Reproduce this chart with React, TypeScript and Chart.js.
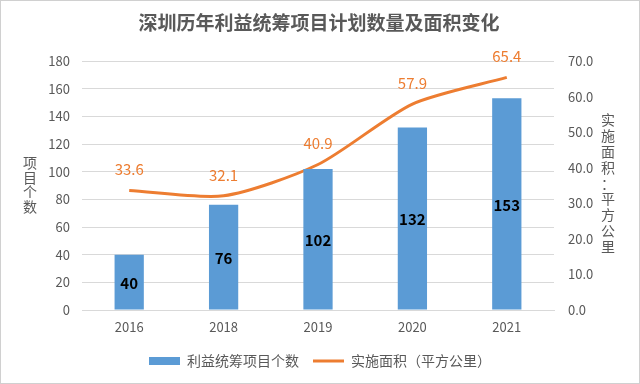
import React, { useEffect, useRef } from "react";
import { Chart, registerables } from "chart.js";

Chart.register(...registerables);

const title = "深圳历年利益统筹项目计划数量及面积变化";
const years = ["2016", "2018", "2019", "2020", "2021"];
const projectCounts = [40, 76, 102, 132, 153];
const areas = [33.6, 32.1, 40.9, 57.9, 65.4];
const barLabel = "利益统筹项目个数";
const lineLabel = "实施面积（平方公里）";
const leftTitle = "项目个数";
const rightTitle = "实施面积：平方公里";

const FONT = '"Noto Sans CJK SC", "Noto Sans", sans-serif';
const GRAY = "#595959";
const BLUE = "#5B9BD5";
const ORANGE = "#ED7D31";

const decorPlugin = {
  id: "decor",
  beforeDraw(chart: any) {
    const { ctx, width, height } = chart;
    ctx.save();
    ctx.fillStyle = "#ffffff";
    ctx.fillRect(0, 0, width, height);
    ctx.strokeStyle = "#d0d0d0";
    ctx.lineWidth = 1;
    ctx.strokeRect(0.5, 0.5, width - 1, height - 1);
    ctx.restore();
  },
  afterDraw(chart: any) {
    const { ctx, width } = chart;
    ctx.save();
    ctx.fillStyle = GRAY;
    ctx.textAlign = "center";
    ctx.textBaseline = "middle";
    ctx.font = `bold 19px ${FONT}`;
    ctx.fillText(title, width / 2 - 1, 23);
    ctx.font = `14px ${FONT}`;
    const lc = Array.from(leftTitle);
    lc.forEach((ch, i) => ctx.fillText(ch, 30, 163 + i * 14.5));
    const rc = Array.from(rightTitle);
    rc.forEach((ch, i) => ctx.fillText(ch, 608, 120 + i * 15.8));
    ctx.restore();
  },
};

const labelPlugin = {
  id: "valueLabels",
  afterDatasetsDraw(chart: any) {
    const { ctx } = chart;
    ctx.save();
    ctx.textAlign = "center";
    ctx.textBaseline = "middle";
    const barMeta = chart.getDatasetMeta(0);
    ctx.font = `bold 15px ${FONT}`;
    ctx.fillStyle = "#000000";
    barMeta.data.forEach((el: any, i: number) => {
      const { x, y, base } = el.getProps(["x", "y", "base"], true);
      ctx.fillText(String(projectCounts[i]), x, (y + base) / 2 + 1);
    });
    const lineMeta = chart.getDatasetMeta(1);
    ctx.font = `15px ${FONT}`;
    ctx.fillStyle = ORANGE;
    lineMeta.data.forEach((el: any, i: number) => {
      const { x, y } = el.getProps(["x", "y"], true);
      ctx.fillText(areas[i].toFixed(1), x, y - 21);
    });
    ctx.restore();
  },
};

export default function App() {
  const ref = useRef<HTMLCanvasElement | null>(null);
  useEffect(() => {
    if (!ref.current) return;
    const chart = new Chart(ref.current, {
      type: "bar",
      data: {
        labels: years,
        datasets: [
          {
            type: "bar",
            label: barLabel,
            data: projectCounts,
            backgroundColor: BLUE,
            borderWidth: 0,
            barPercentage: 0.31,
            categoryPercentage: 1,
            yAxisID: "y",
            pointStyle: "rect",
          } as any,
          {
            type: "line",
            label: lineLabel,
            data: areas,
            borderColor: ORANGE,
            backgroundColor: ORANGE,
            borderWidth: 3,
            pointRadius: 0,
            tension: 0.25,
            yAxisID: "y1",
            pointStyle: "line",
          } as any,
        ],
      },
      options: {
        animation: false,
        responsive: false,
        maintainAspectRatio: false,
        layout: { padding: { top: 61, bottom: 6, left: 0, right: 0 } },
        plugins: {
          title: { display: false },
          tooltip: { enabled: false },
          legend: {
            position: "bottom",
            labels: {
              usePointStyle: true,
              pointStyleWidth: 31,
              boxHeight: 8,
              color: GRAY,
              font: { family: FONT, size: 14 },
              padding: 14,
            },
          },
        },
        scales: {
          x: {
            grid: { display: false, drawTicks: false },
            border: { display: true, color: "#d9d9d9", width: 1 },
            ticks: { color: GRAY, font: { family: FONT, size: 13 }, padding: 9 },
            afterFit: (s: any) => {
              s.height = 30;
            },
          },
          y: {
            position: "left",
            min: 0,
            max: 180,
            ticks: { stepSize: 20, color: GRAY, font: { family: FONT, size: 13 }, padding: 12 },
            grid: { color: "#d9d9d9", drawTicks: false },
            border: { display: false },
            afterFit: (s: any) => {
              s.width = 82;
            },
          },
          y1: {
            position: "right",
            min: 0,
            max: 70,
            ticks: {
              stepSize: 10,
              color: GRAY,
              font: { family: FONT, size: 13 },
              padding: 14,
              callback: (v: any) => Number(v).toFixed(1),
            },
            grid: { display: false, drawTicks: false },
            border: { display: false },
            afterFit: (s: any) => {
              s.width = 86;
            },
          },
        },
      } as any,
      plugins: [decorPlugin, labelPlugin],
    });
    return () => chart.destroy();
  }, []);
  return (
    <div style={{ position: "fixed", left: 0, top: 0, width: 640, height: 384 }}>
      <canvas ref={ref} width={640} height={384} style={{ width: 640, height: 384 }} />
    </div>
  );
}
